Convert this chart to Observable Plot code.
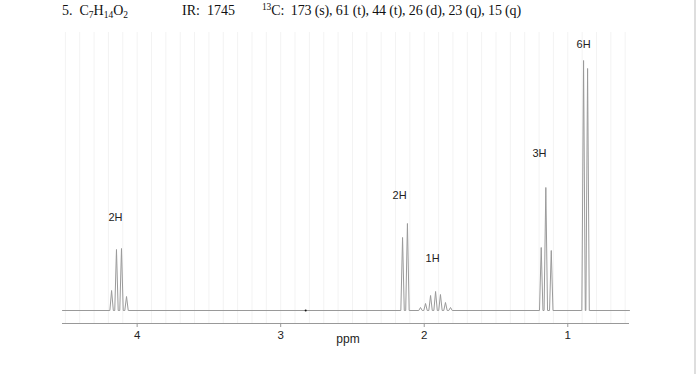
<!DOCTYPE html>
<html>
<head>
<meta charset="utf-8">
<script src="https://cdn.jsdelivr.net/npm/d3@7"></script>
<script src="https://cdn.jsdelivr.net/npm/@observablehq/plot@0.6"></script>
<style>
  body { margin: 0; background: #fff; }
  #wrap { position: relative; width: 700px; height: 374px; overflow: hidden; }
  #title { position: relative; height: 28px; font-family: "Liberation Serif", "Times New Roman", serif; font-size: 14px; color: #111; }
  #title span.t { position: absolute; top: 3px; white-space: nowrap; }
  #title sub { font-size: 9.5px; vertical-align: -3px; line-height: 0; }
  #title sup { font-size: 9.5px; vertical-align: 5px; line-height: 0; }
  #edge { position: absolute; left: 694px; top: 0; width: 2px; height: 374px; background: #dedede; }
  svg { display: block; }
</style>
</head>
<body>
<div id="wrap">
  <div id="title">
    <span class="t" style="left:62px">5.&nbsp; C<sub>7</sub>H<sub>14</sub>O<sub>2</sub></span>
    <span class="t" style="left:182px">IR:&nbsp; 1745</span>
    <span class="t" style="left:262px; letter-spacing:-0.15px"><sup>13</sup>C:&nbsp; 173 (s), 61 (t), 44 (t), 26 (d), 23 (q), 15 (q)</span>
  </div>
  <div id="chart"></div>
  <div id="edge"></div>
</div>
<script>
// Peak positions (ppm) and heights
const peakPpm = [
  4.178, 4.144, 4.109, 4.074,                       // quartet, 2H
  2.151, 2.117,                                     // doublet, 2H
  2.026, 1.991, 1.956, 1.921, 1.887, 1.852, 1.817,  // multiplet, 1H
  1.185, 1.153, 1.115,                              // triplet, 3H
  0.890, 0.862                                      // doublet, 6H
];
const peakHeight = [
  20, 61, 62, 14,
  73, 87,
  3, 7, 15, 19, 16, 8, 3,
  63, 123, 60,
  250, 242
];

// Integration labels
const labelText = ["2H", "2H", "1H", "3H", "6H"];
const labelPpm  = [4.151, 2.172, 1.942, 1.197, 0.890];
const labelY    = [93, 115, 52, 157, 266];

// Stray dot on the baseline
const dotPpm = [2.826];

// Axis
const xDomain = [4.52, 0.57];
const tickValues = [4, 3, 2, 1];
const tickLabels = ["4", "3", "2", "1"];
const axisTitle = "ppm";

const halfWidth = 0.012;
const peaks = peakPpm.map((p, i) => ({p, h: peakHeight[i]})).sort((a, b) => b.p - a.p);
const spectrum = [{x: xDomain[0], y: 0}];
for (const {p, h} of peaks) {
  spectrum.push({x: p + halfWidth, y: 0}, {x: p, y: h}, {x: p - halfWidth, y: 0});
}
spectrum.push({x: xDomain[1], y: 0});

const labels = labelText.map((t, i) => ({t, x: labelPpm[i], y: labelY[i]}));
const gridTicks = d3.scaleLinear().domain([0.6, 4.5]).ticks(40);

const chart = Plot.plot({
  width: 700,
  height: 346,
  marginLeft: 62,
  marginRight: 71,
  marginTop: 4,
  marginBottom: 51,
  style: {fontFamily: "'Liberation Sans', Arial, sans-serif", fontSize: "11px", color: "#222", background: "#fff"},
  x: {domain: xDomain},
  y: {domain: [-13, 278], axis: null},
  marks: [
    Plot.ruleX(gridTicks, {y1: -13, y2: 278, stroke: "#f3f3f3", strokeWidth: 1}),
    Plot.ruleY([-13], {stroke: "#999", strokeWidth: 1}),
    Plot.axisX({
      ticks: tickValues,
      tickFormat: d => tickLabels[tickValues.indexOf(d)],
      tickSize: 4,
      tickPadding: 3,
      stroke: "#999",
      label: null,
      fontSize: 11.5,
      fill: "#222"
    }),
    Plot.text([axisTitle], {frameAnchor: "bottom", text: d => d, dy: 16, fontSize: 12, fill: "#222", lineAnchor: "middle", dx: 2}),
    Plot.line(spectrum, {x: "x", y: "y", stroke: "#9a9a9a", strokeWidth: 1}),
    Plot.dot(dotPpm, {x: d => d, y: () => 0, r: 1, fill: "#111", stroke: null}),
    Plot.text(labels, {x: "x", y: "y", text: "t", fontSize: 11, fill: "#222", lineAnchor: "middle"})
  ]
});
document.getElementById("chart").appendChild(chart);
</script>
</body>
</html>
